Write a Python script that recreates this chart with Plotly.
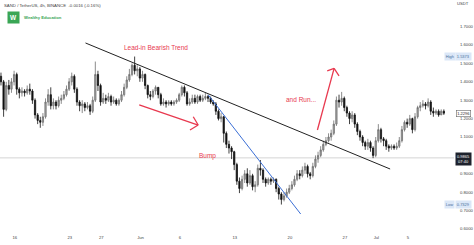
import plotly.graph_objects as go
import pandas as pd

# ---- data (SAND/USDT, 8h candles) ----
start_time = "2022-05-14 06:00"
first_open = 1.43
closes = [1.40, 1.25, 1.38, 1.36, 1.40, 1.44, 1.36, 1.34, 1.35, 1.34,
          1.36, 1.35, 1.30, 1.22, 1.19, 1.18, 1.21, 1.29, 1.33, 1.27,
          1.29, 1.27, 1.30, 1.31, 1.33, 1.36, 1.40, 1.43, 1.36, 1.29,
          1.27, 1.28, 1.26, 1.27, 1.24, 1.30, 1.44, 1.38, 1.29, 1.31,
          1.30, 1.32, 1.29, 1.30, 1.28, 1.30, 1.33, 1.37, 1.41, 1.44,
          1.49, 1.46, 1.47, 1.42, 1.44, 1.38, 1.33, 1.32, 1.35, 1.37,
          1.33, 1.28, 1.29, 1.28, 1.29, 1.28, 1.29, 1.30, 1.33, 1.37,
          1.34, 1.28, 1.29, 1.31, 1.29, 1.32, 1.30, 1.31, 1.32, 1.31,
          1.29, 1.28, 1.24, 1.20, 1.21, 1.12, 1.06, 1.04, 1.02, 0.95,
          0.86, 0.82, 0.87, 0.90, 0.85, 0.89, 0.83, 0.84, 0.93, 0.92,
          0.87, 0.85, 0.87, 0.86, 0.87, 0.82, 0.79, 0.76, 0.78, 0.80,
          0.82, 0.84, 0.87, 0.90, 0.89, 0.92, 0.94, 0.90, 0.89, 0.94,
          0.98, 1.00, 1.03, 1.06, 1.08, 1.10, 1.12, 1.17, 1.30, 1.29,
          1.31, 1.26, 1.23, 1.20, 1.22, 1.17, 1.13, 1.10, 1.07, 1.05,
          1.07, 1.04, 1.00, 1.08, 1.14, 1.09, 1.08, 1.05, 1.04, 1.05,
          1.04, 1.05, 1.08, 1.14, 1.18, 1.17, 1.20, 1.14, 1.21, 1.26,
          1.27, 1.28, 1.27, 1.29, 1.24, 1.23, 1.24, 1.22, 1.24, 1.2296]
highs = [1.45, 1.41, 1.40, 1.41, 1.42, 1.46, 1.45, 1.37, 1.37, 1.36,
         1.38, 1.39, 1.36, 1.31, 1.23, 1.21, 1.23, 1.31, 1.36, 1.37,
         1.31, 1.30, 1.32, 1.33, 1.35, 1.38, 1.42, 1.45, 1.44, 1.37,
         1.30, 1.30, 1.29, 1.29, 1.28, 1.32, 1.51, 1.46, 1.39, 1.34,
         1.33, 1.34, 1.33, 1.32, 1.31, 1.31, 1.35, 1.39, 1.43, 1.47,
         1.50, 1.5373, 1.49, 1.48, 1.46, 1.445, 1.385, 1.35, 1.36, 1.38,
         1.37, 1.34, 1.31, 1.30, 1.30, 1.30, 1.30, 1.31, 1.34, 1.38,
         1.38, 1.35, 1.31, 1.33, 1.33, 1.33, 1.33, 1.33, 1.34, 1.33,
         1.32, 1.30, 1.29, 1.25, 1.23, 1.215, 1.13, 1.08, 1.05, 1.025,
         0.96, 0.88, 0.89, 0.92, 0.93, 0.92, 0.90, 0.86, 0.95, 0.975,
         0.93, 0.88, 0.88, 0.88, 0.88, 0.875, 0.83, 0.80, 0.80, 0.82,
         0.84, 0.86, 0.89, 0.92, 0.92, 0.94, 0.96, 0.95, 0.91, 0.96,
         1.00, 1.02, 1.05, 1.08, 1.10, 1.12, 1.14, 1.19, 1.32, 1.33,
         1.345, 1.32, 1.27, 1.24, 1.24, 1.23, 1.18, 1.14, 1.11, 1.08,
         1.09, 1.08, 1.05, 1.10, 1.17, 1.15, 1.10, 1.09, 1.06, 1.06,
         1.06, 1.07, 1.10, 1.16, 1.19, 1.20, 1.22, 1.205, 1.23, 1.27,
         1.29, 1.30, 1.29, 1.31, 1.30, 1.26, 1.25, 1.25, 1.25, 1.25]
lows = [1.38, 1.21, 1.24, 1.33, 1.34, 1.38, 1.33, 1.31, 1.32, 1.32,
        1.33, 1.33, 1.28, 1.20, 1.17, 1.15, 1.16, 1.20, 1.27, 1.25,
        1.25, 1.25, 1.26, 1.28, 1.30, 1.32, 1.35, 1.38, 1.34, 1.27,
        1.24, 1.23, 1.24, 1.25, 1.22, 1.23, 1.29, 1.35, 1.27, 1.28,
        1.28, 1.29, 1.27, 1.28, 1.27, 1.27, 1.29, 1.32, 1.36, 1.40,
        1.43, 1.44, 1.43, 1.40, 1.40, 1.36, 1.31, 1.30, 1.31, 1.33,
        1.31, 1.27, 1.27, 1.26, 1.27, 1.27, 1.27, 1.28, 1.29, 1.32,
        1.32, 1.27, 1.27, 1.28, 1.28, 1.28, 1.29, 1.29, 1.30, 1.29,
        1.28, 1.27, 1.22, 1.19, 1.18, 1.07, 1.04, 1.01, 0.98, 0.92,
        0.84, 0.795, 0.81, 0.85, 0.83, 0.84, 0.81, 0.80, 0.83, 0.89,
        0.85, 0.83, 0.84, 0.84, 0.85, 0.80, 0.76, 0.7329, 0.75, 0.77,
        0.79, 0.81, 0.83, 0.86, 0.87, 0.88, 0.90, 0.88, 0.87, 0.88,
        0.93, 0.96, 0.99, 1.02, 1.05, 1.07, 1.08, 1.11, 1.16, 1.26,
        1.27, 1.24, 1.21, 1.17, 1.18, 1.15, 1.11, 1.08, 1.05, 1.03,
        1.03, 1.02, 0.985, 0.99, 1.07, 1.07, 1.05, 1.03, 1.02, 1.03,
        1.03, 1.03, 1.04, 1.07, 1.13, 1.15, 1.16, 1.12, 1.13, 1.20,
        1.24, 1.26, 1.25, 1.26, 1.22, 1.21, 1.22, 1.21, 1.22, 1.22]
marked_level = 0.9865
price_ticks = [0.6, 0.7, 0.8, 0.9, 1.1, 1.2, 1.3, 1.4, 1.5, 1.6, 1.7]
date_ticks = ["2022-05-16", "2022-05-23", "2022-05-27", "2022-06-01", "2022-06-06",
              "2022-06-13", "2022-06-20", "2022-06-27", "2022-07-01", "2022-07-05"]
date_tick_text = ["16", "23", "27", "Jun", "6", "13", "20", "27", "Jul", "5"]

opens = [first_open] + closes[:-1]
times = pd.date_range(start_time, periods=len(closes), freq="8h")

W, H = 474, 245
PW, PH = 454, 231  # plot area in px
FONT = "Liberation Sans, Arial, sans-serif"
RED = "#e8394f"

fig = go.Figure(go.Candlestick(
    x=times, open=opens, high=highs, low=lows, close=closes,
    increasing=dict(line=dict(color="#6e6e6e", width=0.8), fillcolor="#a8a8a8"),
    decreasing=dict(line=dict(color="#111111", width=0.8), fillcolor="#111111"),
    whiskerwidth=0, hoverinfo="skip", showlegend=False,
))

def line(x0, y0, x1, y1, color, width):
    fig.add_shape(type="line", xref="x", yref="y", x0=x0, y0=y0, x1=x1, y1=y1,
                  line=dict(color=color, width=width), layer="above")

# horizontal marked level
fig.add_shape(type="line", xref="paper", yref="y", x0=0, x1=1, y0=marked_level, y1=marked_level,
              line=dict(color="#d4d4d4", width=1), layer="below")
# trend lines
line("2022-05-25 00:00", 1.611, "2022-07-02 18:00", 0.926, "#222222", 1)
line("2022-06-09 15:00", 1.328, "2022-06-21 09:00", 0.6815, "#3b6fd6", 1)
# red arrow 1
line("2022-05-31 20:00", 1.274, "2022-06-08 08:00", 1.165, RED, 1.3)
line("2022-06-07 17:00", 1.210, "2022-06-08 08:00", 1.165, RED, 1.3)
line("2022-06-07 07:00", 1.138, "2022-06-08 08:00", 1.165, RED, 1.3)
# red arrow 2
line("2022-06-23 12:00", 1.138, "2022-06-25 15:00", 1.473, RED, 1.3)
line("2022-06-24 18:00", 1.459, "2022-06-25 15:00", 1.473, RED, 1.3)
line("2022-06-26 06:00", 1.432, "2022-06-25 15:00", 1.473, RED, 1.3)

def txt(x, y, s, size, color, **kw):
    fig.add_annotation(x=x, y=y, xref="x", yref="y", text=s, showarrow=False,
                       font=dict(family=FONT, size=size, color=color), **kw)

txt("2022-06-03 00:00", 1.584, "Lead-in Bearish Trend", 6.5, RED)
txt("2022-06-09 12:00", 0.997, "Bump", 6.5, RED)
txt("2022-06-21 09:00", 1.3065, "and Run...", 6.5, RED)

def ptxt(px, py, s, size, color, xanchor="center", **kw):
    fig.add_annotation(x=px / PW, y=1 - py / PH, xref="paper", yref="paper", text=s,
                       showarrow=False, xanchor=xanchor, yanchor="middle",
                       font=dict(family=FONT, size=size, color=color), **kw)

ptxt(2, 5, "SAND / TetherUS, 4h, BINANCE  -0.0016 (-0.16%)", 4.3, "#444", xanchor="left")
ptxt(13.5, 17, "<b>W</b>", 6.5, "white", bgcolor="#3aa655", borderpad=2)
ptxt(22, 17, "<b>Wealthy Education</b>", 4.2, "#3aa655", xanchor="left")
ptxt(463, 4, "USDT", 4.2, "#444")

hi, lo, last = max(highs), min(lows), closes[-1]
ptxt(449.5, 56.5, "High", 4, "#4a6f9c", bgcolor="#dbe7f7", borderpad=0.8)
ptxt(463.5, 56.5, f"{hi:.4f}", 4, "#4a6f9c", bgcolor="#dbe7f7", borderpad=0.8)
ptxt(449, 204, "Low", 4, "#4a6f9c", bgcolor="#dbe7f7", borderpad=0.8)
ptxt(463.5, 204, f"{lo:.4f}", 4, "#4a6f9c", bgcolor="#dbe7f7", borderpad=0.8)
ptxt(463.5, 113, f"{last:.4f}", 4, "#222", bgcolor="white", bordercolor="#666",
     borderwidth=0.6, borderpad=0.6)
ptxt(463.5, 158.5, f"{marked_level:.4f}<br>07:40", 4, "white", bgcolor="#1e222d",
     borderpad=1)

# axis ranges chosen so that 8 px = 1 day and 184 px = 1 USDT
fig.update_layout(
    width=W, height=H, margin=dict(l=0, r=W - PW, t=0, b=H - PH),
    paper_bgcolor="white", plot_bgcolor="white",
    font=dict(family=FONT, size=4, color="#444"),
    xaxis=dict(type="date", range=["2022-05-14 03:00", "2022-07-10 21:00"],
               rangeslider=dict(visible=False), showgrid=False, zeroline=False,
               tickvals=date_ticks, ticktext=date_tick_text, ticks="",
               tickfont=dict(size=4.2, color="#444"), ticklabelstandoff=3, fixedrange=True),
    yaxis=dict(range=[0.5891, 1.8446], side="right", showgrid=False, zeroline=False,
               tickvals=price_ticks, ticktext=[f"{v:.4f}" for v in price_ticks], ticks="",
               tickfont=dict(size=4.2, color="#444"), ticklabelstandoff=5, fixedrange=True),
)

fig.write_html("out.html")
